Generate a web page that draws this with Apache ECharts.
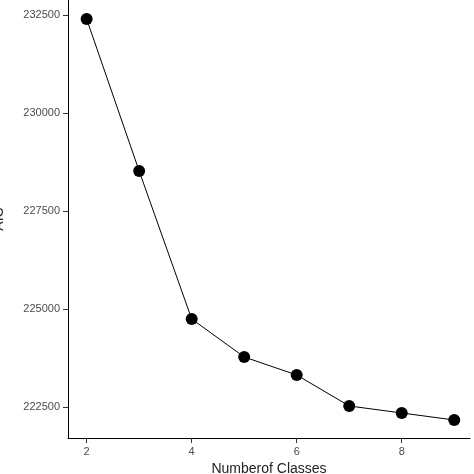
<!DOCTYPE html>
<html>
<head>
<meta charset="utf-8">
<script src="https://cdn.jsdelivr.net/npm/echarts@6/dist/echarts.min.js"></script>
<style>html,body{margin:0;padding:0;background:#fff}#c{width:474px;height:474px}</style>
</head>
<body>
<div id="c"></div>
<script>
const classes = [2, 3, 4, 5, 6, 7, 8, 9];
const aic = [232398, 228520, 224745, 223776, 223316, 222526, 222347, 222168];
const xTicks = [2, 4, 6, 8];
const yTicks = [222500, 225000, 227500, 230000, 232500];

const chart = echarts.init(document.getElementById('c'));
chart.setOption({
  animation: false,
  grid: { left: 68, right: 4, top: 0, bottom: 36, containLabel: false, outerBoundsMode: 'none' },
  xAxis: {
    type: 'value', min: 1.645, max: 9.3,
    name: 'Numberof Classes', nameLocation: 'middle', nameGap: 22,
    nameTextStyle: { color: '#222', fontSize: 14, fontFamily: 'Arial' },
    axisLine: { lineStyle: { color: '#000' } },
    axisTick: { show: true, customValues: xTicks, lineStyle: { color: '#333' } },
    axisLabel: { customValues: xTicks, color: '#4d4d4d', fontSize: 11, fontFamily: 'Arial' },
    splitLine: { show: false }
  },
  yAxis: {
    type: 'value', min: 221709, max: 232883,
    name: 'AIC', nameLocation: 'middle', nameGap: 62, nameRotate: 90,
    nameTextStyle: { color: '#222', fontSize: 14, fontFamily: 'Arial' },
    axisLine: { show: true, lineStyle: { color: '#000' } },
    axisTick: { show: true, customValues: yTicks, lineStyle: { color: '#333' } },
    axisLabel: { customValues: yTicks, formatter: v => String(v), color: '#4d4d4d', fontSize: 11, fontFamily: 'Arial' },
    splitLine: { show: false }
  },
  series: [{
    type: 'line',
    data: classes.map((c, i) => [c, aic[i]]),
    symbol: 'circle', symbolSize: 12,
    itemStyle: { color: '#000' },
    lineStyle: { color: '#000', width: 1 }
  }]
});
</script>
</body>
</html>
